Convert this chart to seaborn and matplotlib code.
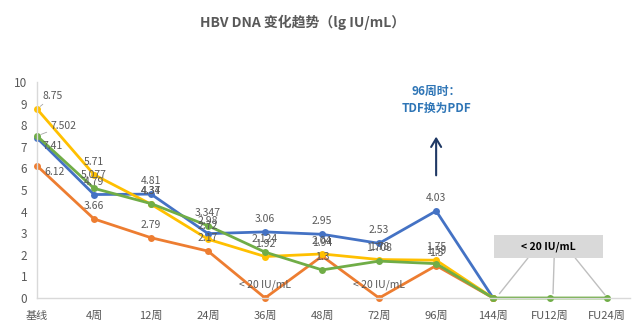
import numpy as np
import pandas as pd
import matplotlib
matplotlib.use('Agg')
import matplotlib.pyplot as plt
from matplotlib.patches import Rectangle
import seaborn as sns

# ---- data ----
timepoints = ['基线', '4周', '12周', '24周', '36周', '48周', '72周', '96周', '144周', 'FU12周', 'FU24周']
series_names = ['患者1', '患者2', '患者3', '患者4']
blue = [7.41, 4.79, 4.81, 2.98, 3.06, 2.95, 2.53, 4.03, 0, np.nan, np.nan]
orange = [6.12, 3.66, 2.79, 2.17, 0, 1.94, 0, 1.5, 0, np.nan, np.nan]
yellow = [8.75, 5.71, 4.34, 2.72, 1.92, 2.04, 1.78, 1.75, 0, np.nan, np.nan]
green = [7.502, 5.077, 4.37, 3.347, 2.124, 1.3, 1.708, 1.59, 0, 0, 0]
colors = ['#4472C4', '#ED7D31', '#FFC000', '#70AD47']
below_lloq = '< 20 IU/mL'
switch_note = '96周时：\nTDF换为PDF'
title = 'HBV DNA 变化趋势（lg IU/mL）'
yticks = list(range(0, 11))

sns.set_theme(style='white')
plt.rcParams['font.family'] = ['Noto Sans CJK SC', 'DejaVu Sans']

all_series = [blue, orange, yellow, green]
rows = []
for name, vals in zip(series_names, all_series):
    for i, v in enumerate(vals):
        rows.append({'pos': i, 'tp': timepoints[i], 'value': v, 'series': name})
df = pd.DataFrame(rows).dropna()

fig = plt.figure(figsize=(6.4, 3.32), dpi=100)
ax = fig.add_axes([37 / 640, 34 / 332, 593 / 640, 216 / 332])

sns.lineplot(data=df, x='pos', y='value', hue='series', hue_order=series_names,
             palette=colors, marker='o', markersize=5, markeredgewidth=0,
             linewidth=2, legend=False, ax=ax, sort=False)
for ln in ax.lines:
    ln.set_clip_on(False)

ax.set_xlim(0, 10.4)
ax.set_ylim(0, 10)
ax.set_xticks(range(len(timepoints)))
ax.set_xticklabels(timepoints)
ax.set_yticks(yticks)
ax.set_xlabel('')
ax.set_ylabel('')
ax.tick_params(axis='x', length=3, color='#d9d9d9', pad=6, labelsize=8, labelcolor='#595959')
ax.tick_params(axis='y', length=0, pad=7, labelsize=8.5, labelcolor='#595959')
for s in ['top', 'right']:
    ax.spines[s].set_visible(False)
for s in ['left', 'bottom']:
    ax.spines[s].set_color('#d9d9d9')
    ax.spines[s].set_linewidth(1)

# ---- data labels ----
offsets = {(2, 0): (16, 13), (3, 0): (26, 10), (0, 0): (16, -8), (1, 0): (18, -6)}
leaders = {(2, 0), (3, 0)}
for si, vals in enumerate(all_series):
    for i, v in enumerate(vals):
        if np.isnan(v):
            continue
        if v == 0:
            if i >= 8:
                continue
            txt = below_lloq
        else:
            txt = f'{v:g}'
        dx, dy = offsets.get((si, i), (0, 13))
        kw = {}
        if (si, i) in leaders:
            kw['arrowprops'] = dict(arrowstyle='-', color='#a6a6a6', lw=0.6, shrinkA=0, shrinkB=3)
        ax.annotate(txt, (i, v), xytext=(dx, dy), textcoords='offset pixels',
                    ha='center', va='center', fontsize=7.5, color='#595959',
                    annotation_clip=False, **kw)

# ---- "< 20 IU/mL" callout box ----
ax.add_patch(Rectangle((8.02, 1.85), 1.91, 1.07, facecolor='#d9d9d9', edgecolor='none', zorder=3))
ax.text(8.975, 2.385, below_lloq, ha='center', va='center', fontsize=7.5,
        fontweight='bold', color='#000000', zorder=4)
for (x0, y0), (x1, y1) in [((8.61, 1.85), (8.11, 0.2)), ((9.07, 1.85), (9.05, 0.2)),
                           ((9.44, 1.85), (9.96, 0.15))]:
    ax.plot([x0, x1], [y0, y1], color='#bfbfbf', lw=1, zorder=2)

# ---- switch annotation ----
ax.annotate('', xy=(7, 7.6), xytext=(7, 5.55),
            arrowprops=dict(arrowstyle='->,head_length=0.5,head_width=0.3', color='#1F3864', lw=1.5))
ax.text(7, 9.15, switch_note, ha='center', va='center', fontsize=8.5, fontweight='bold',
        color='#2E75B6', linespacing=1.4)

fig.text(303 / 640, 1 - 22 / 332, title, ha='center', va='center', fontsize=10,
         fontweight='bold', color='#595959')

fig.savefig('out.png', dpi=100, facecolor='white')
